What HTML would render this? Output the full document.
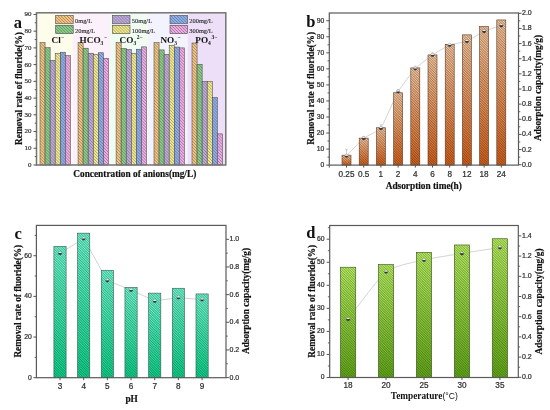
<!DOCTYPE html>
<html><head><meta charset="utf-8"><title>Fluoride removal figure</title>
<style>html,body{margin:0;padding:0;background:#fff;}svg{display:block;} svg{will-change:transform;}</style></head>
<body><svg width="550" height="410" viewBox="0 0 550 410">
<defs><linearGradient id="sph" x1="0" y1="0" x2="0" y2="1"><stop offset="0" stop-color="#ffffff"/><stop offset="0.4" stop-color="#e8eaf0"/><stop offset="0.55" stop-color="#3a3a44"/><stop offset="1" stop-color="#222"/></linearGradient><pattern id="ha0" patternUnits="userSpaceOnUse" width="2.1" height="2.1" patternTransform="rotate(-45)"><rect width="2.1" height="2.1" fill="#f6c782"/><rect x="0" y="0" width="0.75" height="2.1" fill="#3a3030" fill-opacity="0.4"/></pattern><pattern id="ha1" patternUnits="userSpaceOnUse" width="2.1" height="2.1" patternTransform="rotate(-45)"><rect width="2.1" height="2.1" fill="#8ad28a"/><rect x="0" y="0" width="0.75" height="2.1" fill="#3a3030" fill-opacity="0.4"/></pattern><pattern id="ha2" patternUnits="userSpaceOnUse" width="2.1" height="2.1" patternTransform="rotate(-45)"><rect width="2.1" height="2.1" fill="#c2aee2"/><rect x="0" y="0" width="0.75" height="2.1" fill="#3a3030" fill-opacity="0.4"/></pattern><pattern id="ha3" patternUnits="userSpaceOnUse" width="2.1" height="2.1" patternTransform="rotate(-45)"><rect width="2.1" height="2.1" fill="#f6ee90"/><rect x="0" y="0" width="0.75" height="2.1" fill="#3a3030" fill-opacity="0.4"/></pattern><pattern id="ha4" patternUnits="userSpaceOnUse" width="2.1" height="2.1" patternTransform="rotate(-45)"><rect width="2.1" height="2.1" fill="#8eb2f0"/><rect x="0" y="0" width="0.75" height="2.1" fill="#3a3030" fill-opacity="0.4"/></pattern><pattern id="ha5" patternUnits="userSpaceOnUse" width="2.1" height="2.1" patternTransform="rotate(-45)"><rect width="2.1" height="2.1" fill="#f4aeea"/><rect x="0" y="0" width="0.75" height="2.1" fill="#3a3030" fill-opacity="0.4"/></pattern><linearGradient id="gb" x1="0" y1="0" x2="0" y2="1"><stop offset="0" stop-color="#f6cca6"/><stop offset="1" stop-color="#d2601a"/></linearGradient><pattern id="hb" patternUnits="userSpaceOnUse" width="1.75" height="1.75" patternTransform="rotate(-45)"><rect x="0" y="0" width="0.65" height="1.75" fill="#3a1a08" fill-opacity="0.5"/></pattern><linearGradient id="gc" x1="0" y1="0" x2="0" y2="1"><stop offset="0" stop-color="#72f8d0"/><stop offset="1" stop-color="#0ed088"/></linearGradient><pattern id="hc" patternUnits="userSpaceOnUse" width="1.75" height="1.75" patternTransform="rotate(-45)"><rect x="0" y="0" width="0.65" height="1.75" fill="#064030" fill-opacity="0.48"/></pattern><linearGradient id="gd" x1="0" y1="0" x2="0" y2="1"><stop offset="0" stop-color="#baf062"/><stop offset="1" stop-color="#62a618"/></linearGradient><pattern id="hd" patternUnits="userSpaceOnUse" width="1.75" height="1.75" patternTransform="rotate(-45)"><rect x="0" y="0" width="0.65" height="1.75" fill="#1a3008" fill-opacity="0.45"/></pattern></defs>
<rect width="550" height="410" fill="#fff"/>
<rect x="36.5" y="12.8" width="36.30" height="152.20" fill="#fefdec"/>
<rect x="72.8" y="12.8" width="37.20" height="152.20" fill="#fcf0fa"/>
<rect x="110" y="12.8" width="37.50" height="152.20" fill="#f0fbf1"/>
<rect x="147.5" y="12.8" width="40.00" height="152.20" fill="#f3f3fd"/>
<rect x="187.5" y="12.8" width="38.30" height="152.20" fill="#ecdff7"/>
<rect x="40.00" y="42.70" width="5.07" height="122.30" fill="url(#ha0)" stroke="#4a4a4a" stroke-width="0.55"/>
<rect x="45.07" y="47.72" width="5.07" height="117.28" fill="url(#ha1)" stroke="#4a4a4a" stroke-width="0.55"/>
<rect x="50.14" y="60.27" width="5.07" height="104.73" fill="url(#ha2)" stroke="#4a4a4a" stroke-width="0.55"/>
<rect x="55.21" y="53.24" width="5.07" height="111.76" fill="url(#ha3)" stroke="#4a4a4a" stroke-width="0.55"/>
<rect x="60.28" y="52.24" width="5.07" height="112.76" fill="url(#ha4)" stroke="#4a4a4a" stroke-width="0.55"/>
<rect x="65.35" y="55.59" width="5.07" height="109.41" fill="url(#ha5)" stroke="#4a4a4a" stroke-width="0.55"/>
<rect x="78.05" y="42.70" width="5.07" height="122.30" fill="url(#ha0)" stroke="#4a4a4a" stroke-width="0.55"/>
<rect x="83.12" y="48.22" width="5.07" height="116.78" fill="url(#ha1)" stroke="#4a4a4a" stroke-width="0.55"/>
<rect x="88.19" y="53.24" width="5.07" height="111.76" fill="url(#ha2)" stroke="#4a4a4a" stroke-width="0.55"/>
<rect x="93.26" y="54.58" width="5.07" height="110.42" fill="url(#ha3)" stroke="#4a4a4a" stroke-width="0.55"/>
<rect x="98.33" y="52.74" width="5.07" height="112.26" fill="url(#ha4)" stroke="#4a4a4a" stroke-width="0.55"/>
<rect x="103.40" y="58.26" width="5.07" height="106.74" fill="url(#ha5)" stroke="#4a4a4a" stroke-width="0.55"/>
<rect x="116.10" y="42.70" width="5.07" height="122.30" fill="url(#ha0)" stroke="#4a4a4a" stroke-width="0.55"/>
<rect x="121.17" y="48.56" width="5.07" height="116.44" fill="url(#ha1)" stroke="#4a4a4a" stroke-width="0.55"/>
<rect x="126.24" y="49.56" width="5.07" height="115.44" fill="url(#ha2)" stroke="#4a4a4a" stroke-width="0.55"/>
<rect x="131.31" y="53.24" width="5.07" height="111.76" fill="url(#ha3)" stroke="#4a4a4a" stroke-width="0.55"/>
<rect x="136.38" y="49.23" width="5.07" height="115.77" fill="url(#ha4)" stroke="#4a4a4a" stroke-width="0.55"/>
<rect x="141.45" y="46.89" width="5.07" height="118.11" fill="url(#ha5)" stroke="#4a4a4a" stroke-width="0.55"/>
<rect x="154.00" y="42.70" width="5.07" height="122.30" fill="url(#ha0)" stroke="#4a4a4a" stroke-width="0.55"/>
<rect x="159.07" y="49.90" width="5.07" height="115.10" fill="url(#ha1)" stroke="#4a4a4a" stroke-width="0.55"/>
<rect x="164.14" y="54.25" width="5.07" height="110.75" fill="url(#ha2)" stroke="#4a4a4a" stroke-width="0.55"/>
<rect x="169.21" y="45.55" width="5.07" height="119.45" fill="url(#ha3)" stroke="#4a4a4a" stroke-width="0.55"/>
<rect x="174.28" y="47.05" width="5.07" height="117.95" fill="url(#ha4)" stroke="#4a4a4a" stroke-width="0.55"/>
<rect x="179.35" y="47.89" width="5.07" height="117.11" fill="url(#ha5)" stroke="#4a4a4a" stroke-width="0.55"/>
<rect x="192.00" y="43.04" width="5.07" height="121.96" fill="url(#ha0)" stroke="#4a4a4a" stroke-width="0.55"/>
<rect x="197.07" y="64.29" width="5.07" height="100.71" fill="url(#ha1)" stroke="#4a4a4a" stroke-width="0.55"/>
<rect x="202.14" y="81.52" width="5.07" height="83.48" fill="url(#ha2)" stroke="#4a4a4a" stroke-width="0.55"/>
<rect x="207.21" y="81.35" width="5.07" height="83.65" fill="url(#ha3)" stroke="#4a4a4a" stroke-width="0.55"/>
<rect x="212.28" y="97.58" width="5.07" height="67.42" fill="url(#ha4)" stroke="#4a4a4a" stroke-width="0.55"/>
<rect x="217.35" y="133.88" width="5.07" height="31.12" fill="url(#ha5)" stroke="#4a4a4a" stroke-width="0.55"/>
<rect x="55.7" y="15.4" width="17.5" height="8.4" fill="url(#ha0)" stroke="#4a4a4a" stroke-width="0.6"/>
<text x="75.00" y="22.60" font-family="'Liberation Serif', serif" font-size="6.4" fill="#333" stroke="#333" stroke-width="0.15">0mg/L</text>
<rect x="55.7" y="25.3" width="17.5" height="8.4" fill="url(#ha1)" stroke="#4a4a4a" stroke-width="0.6"/>
<text x="75.00" y="32.50" font-family="'Liberation Serif', serif" font-size="6.4" fill="#333" stroke="#333" stroke-width="0.15">20mg/L</text>
<rect x="112.5" y="15.4" width="17.5" height="8.4" fill="url(#ha2)" stroke="#4a4a4a" stroke-width="0.6"/>
<text x="131.80" y="22.60" font-family="'Liberation Serif', serif" font-size="6.4" fill="#333" stroke="#333" stroke-width="0.15">50mg/L</text>
<rect x="112.5" y="25.3" width="17.5" height="8.4" fill="url(#ha3)" stroke="#4a4a4a" stroke-width="0.6"/>
<text x="131.80" y="32.50" font-family="'Liberation Serif', serif" font-size="6.4" fill="#333" stroke="#333" stroke-width="0.15">100mg/L</text>
<rect x="170.0" y="15.4" width="17.5" height="8.4" fill="url(#ha4)" stroke="#4a4a4a" stroke-width="0.6"/>
<text x="189.30" y="22.60" font-family="'Liberation Serif', serif" font-size="6.4" fill="#333" stroke="#333" stroke-width="0.15">200mg/L</text>
<rect x="170.0" y="25.3" width="17.5" height="8.4" fill="url(#ha5)" stroke="#4a4a4a" stroke-width="0.6"/>
<text x="189.30" y="32.50" font-family="'Liberation Serif', serif" font-size="6.4" fill="#333" stroke="#333" stroke-width="0.15">300mg/L</text>
<text x="51.6" y="42.9" font-family="'Liberation Serif', serif" font-weight="bold" font-size="9.2" fill="#111">Cl<tspan font-size="5.52" dy="-3.86" dx="0.3">&#8722;</tspan></text>
<text x="79.6" y="42.9" font-family="'Liberation Serif', serif" font-weight="bold" font-size="9.2" fill="#111">HCO<tspan font-size="5.52" dy="2.02">3</tspan><tspan font-size="5.52" dy="-5.89" dx="0.6">&#8722;</tspan></text>
<text x="119.6" y="42.9" font-family="'Liberation Serif', serif" font-weight="bold" font-size="9.2" fill="#111">CO<tspan font-size="5.52" dy="2.02">3</tspan><tspan font-size="5.52" dy="-5.89" dx="0.6">2&#8722;</tspan></text>
<text x="160.4" y="42.9" font-family="'Liberation Serif', serif" font-weight="bold" font-size="9.2" fill="#111">NO<tspan font-size="5.52" dy="2.02">3</tspan><tspan font-size="5.52" dy="-5.89" dx="0.6">&#8722;</tspan></text>
<text x="195.3" y="42.9" font-family="'Liberation Serif', serif" font-weight="bold" font-size="9.2" fill="#111">PO<tspan font-size="5.52" dy="2.02">4</tspan><tspan font-size="5.52" dy="-5.89" dx="0.6">3&#8722;</tspan></text>
<rect x="36.5" y="12.8" width="189.30" height="152.20" fill="none" stroke="#747474" stroke-width="1.5"/>
<line x1="33.50" y1="165.00" x2="36.50" y2="165.00" stroke="#555" stroke-width="1"/>
<line x1="33.50" y1="148.27" x2="36.50" y2="148.27" stroke="#555" stroke-width="1"/>
<line x1="33.50" y1="131.54" x2="36.50" y2="131.54" stroke="#555" stroke-width="1"/>
<line x1="33.50" y1="114.81" x2="36.50" y2="114.81" stroke="#555" stroke-width="1"/>
<line x1="33.50" y1="98.08" x2="36.50" y2="98.08" stroke="#555" stroke-width="1"/>
<line x1="33.50" y1="81.35" x2="36.50" y2="81.35" stroke="#555" stroke-width="1"/>
<line x1="33.50" y1="64.62" x2="36.50" y2="64.62" stroke="#555" stroke-width="1"/>
<line x1="33.50" y1="47.89" x2="36.50" y2="47.89" stroke="#555" stroke-width="1"/>
<line x1="33.50" y1="31.16" x2="36.50" y2="31.16" stroke="#555" stroke-width="1"/>
<line x1="33.50" y1="14.43" x2="36.50" y2="14.43" stroke="#555" stroke-width="1"/>
<line x1="34.70" y1="156.63" x2="36.50" y2="156.63" stroke="#555" stroke-width="0.9"/>
<line x1="34.70" y1="139.91" x2="36.50" y2="139.91" stroke="#555" stroke-width="0.9"/>
<line x1="34.70" y1="123.17" x2="36.50" y2="123.17" stroke="#555" stroke-width="0.9"/>
<line x1="34.70" y1="106.44" x2="36.50" y2="106.44" stroke="#555" stroke-width="0.9"/>
<line x1="34.70" y1="89.72" x2="36.50" y2="89.72" stroke="#555" stroke-width="0.9"/>
<line x1="34.70" y1="72.98" x2="36.50" y2="72.98" stroke="#555" stroke-width="0.9"/>
<line x1="34.70" y1="56.25" x2="36.50" y2="56.25" stroke="#555" stroke-width="0.9"/>
<line x1="34.70" y1="39.52" x2="36.50" y2="39.52" stroke="#555" stroke-width="0.9"/>
<line x1="34.70" y1="22.79" x2="36.50" y2="22.79" stroke="#555" stroke-width="0.9"/>
<text x="31.60" y="166.90" text-anchor="end" font-family="'Liberation Serif', serif" font-size="7.0" fill="#333" stroke="#333" stroke-width="0.22">0</text>
<text x="31.60" y="150.17" text-anchor="end" font-family="'Liberation Serif', serif" font-size="7.0" fill="#333" stroke="#333" stroke-width="0.22">10</text>
<text x="31.60" y="133.44" text-anchor="end" font-family="'Liberation Serif', serif" font-size="7.0" fill="#333" stroke="#333" stroke-width="0.22">20</text>
<text x="31.60" y="116.71" text-anchor="end" font-family="'Liberation Serif', serif" font-size="7.0" fill="#333" stroke="#333" stroke-width="0.22">30</text>
<text x="31.60" y="99.98" text-anchor="end" font-family="'Liberation Serif', serif" font-size="7.0" fill="#333" stroke="#333" stroke-width="0.22">40</text>
<text x="31.60" y="83.25" text-anchor="end" font-family="'Liberation Serif', serif" font-size="7.0" fill="#333" stroke="#333" stroke-width="0.22">50</text>
<text x="31.60" y="66.52" text-anchor="end" font-family="'Liberation Serif', serif" font-size="7.0" fill="#333" stroke="#333" stroke-width="0.22">60</text>
<text x="31.60" y="49.79" text-anchor="end" font-family="'Liberation Serif', serif" font-size="7.0" fill="#333" stroke="#333" stroke-width="0.22">70</text>
<text x="31.60" y="33.06" text-anchor="end" font-family="'Liberation Serif', serif" font-size="7.0" fill="#333" stroke="#333" stroke-width="0.22">80</text>
<text x="31.60" y="16.33" text-anchor="end" font-family="'Liberation Serif', serif" font-size="7.0" fill="#333" stroke="#333" stroke-width="0.22">90</text>
<text x="13.8" y="28" font-family="'Liberation Serif', serif" font-weight="bold" font-size="16.5" fill="#111">a</text>
<text transform="translate(21.60,88.50) rotate(-90)" text-anchor="middle" font-family="'Liberation Serif', serif" font-weight="bold" font-size="9.3" fill="#111" stroke="#111" stroke-width="0.18">Removal rate of fluoride(%)</text>
<text x="134.80" y="176.60" text-anchor="middle" font-family="'Liberation Serif', serif" font-weight="bold" font-size="9.3" fill="#111" stroke="#111" stroke-width="0.18">Concentration of anions(mg/L)</text>
<path d="M346.50,155.80 C347.53,154.74 361.64,139.86 363.70,138.20 C365.76,136.54 378.84,131.00 380.90,128.20 C382.96,125.40 396.04,95.18 398.10,91.60 C400.16,88.02 413.24,70.80 415.30,68.60 C417.36,66.40 430.44,56.32 432.50,54.90 C434.56,53.48 447.64,45.82 449.70,45.00 C451.76,44.18 464.84,42.02 466.90,41.20 C468.96,40.38 482.04,32.25 484.10,31.30 C486.16,30.35 500.27,25.75 501.30,25.40" fill="none" stroke="#c4c4c4" stroke-width="0.75"/>
<rect x="342.00" y="155.16" width="9" height="9.94" fill="url(#gb)"/>
<rect x="342.00" y="155.16" width="9" height="9.94" fill="url(#hb)" stroke="#5a3a2a" stroke-width="0.6"/>
<rect x="359.20" y="138.15" width="9" height="26.95" fill="url(#gb)"/>
<rect x="359.20" y="138.15" width="9" height="26.95" fill="url(#hb)" stroke="#5a3a2a" stroke-width="0.6"/>
<rect x="376.40" y="127.73" width="9" height="37.37" fill="url(#gb)"/>
<rect x="376.40" y="127.73" width="9" height="37.37" fill="url(#hb)" stroke="#5a3a2a" stroke-width="0.6"/>
<rect x="393.60" y="92.76" width="9" height="72.34" fill="url(#gb)"/>
<rect x="393.60" y="92.76" width="9" height="72.34" fill="url(#hb)" stroke="#5a3a2a" stroke-width="0.6"/>
<rect x="410.80" y="67.90" width="9" height="97.20" fill="url(#gb)"/>
<rect x="410.80" y="67.90" width="9" height="97.20" fill="url(#hb)" stroke="#5a3a2a" stroke-width="0.6"/>
<rect x="428.00" y="54.91" width="9" height="110.19" fill="url(#gb)"/>
<rect x="428.00" y="54.91" width="9" height="110.19" fill="url(#hb)" stroke="#5a3a2a" stroke-width="0.6"/>
<rect x="445.20" y="44.32" width="9" height="120.78" fill="url(#gb)"/>
<rect x="445.20" y="44.32" width="9" height="120.78" fill="url(#hb)" stroke="#5a3a2a" stroke-width="0.6"/>
<rect x="462.40" y="34.86" width="9" height="130.24" fill="url(#gb)"/>
<rect x="462.40" y="34.86" width="9" height="130.24" fill="url(#hb)" stroke="#5a3a2a" stroke-width="0.6"/>
<rect x="479.60" y="26.51" width="9" height="138.59" fill="url(#gb)"/>
<rect x="479.60" y="26.51" width="9" height="138.59" fill="url(#hb)" stroke="#5a3a2a" stroke-width="0.6"/>
<rect x="496.80" y="19.94" width="9" height="145.16" fill="url(#gb)"/>
<rect x="496.80" y="19.94" width="9" height="145.16" fill="url(#hb)" stroke="#5a3a2a" stroke-width="0.6"/>
<line x1="346.50" y1="149.40" x2="346.50" y2="155.80" stroke="#b0b0b0" stroke-width="0.6"/><line x1="345.30" y1="149.40" x2="347.70" y2="149.40" stroke="#b0b0b0" stroke-width="0.6"/>
<line x1="363.70" y1="136.40" x2="363.70" y2="138.20" stroke="#b0b0b0" stroke-width="0.6"/><line x1="362.50" y1="136.40" x2="364.90" y2="136.40" stroke="#b0b0b0" stroke-width="0.6"/>
<line x1="380.90" y1="124.80" x2="380.90" y2="128.20" stroke="#b0b0b0" stroke-width="0.6"/><line x1="379.70" y1="124.80" x2="382.10" y2="124.80" stroke="#b0b0b0" stroke-width="0.6"/>
<line x1="398.10" y1="89.60" x2="398.10" y2="91.60" stroke="#b0b0b0" stroke-width="0.6"/><line x1="396.90" y1="89.60" x2="399.30" y2="89.60" stroke="#b0b0b0" stroke-width="0.6"/>
<line x1="415.30" y1="66.20" x2="415.30" y2="68.60" stroke="#b0b0b0" stroke-width="0.6"/><line x1="414.10" y1="66.20" x2="416.50" y2="66.20" stroke="#b0b0b0" stroke-width="0.6"/>
<line x1="432.50" y1="52.80" x2="432.50" y2="54.90" stroke="#b0b0b0" stroke-width="0.6"/><line x1="431.30" y1="52.80" x2="433.70" y2="52.80" stroke="#b0b0b0" stroke-width="0.6"/>
<circle cx="346.50" cy="155.80" r="1.75" fill="url(#sph)" stroke="#555" stroke-width="0.3"/>
<circle cx="363.70" cy="138.20" r="1.75" fill="url(#sph)" stroke="#555" stroke-width="0.3"/>
<circle cx="380.90" cy="128.20" r="1.75" fill="url(#sph)" stroke="#555" stroke-width="0.3"/>
<circle cx="398.10" cy="91.60" r="1.75" fill="url(#sph)" stroke="#555" stroke-width="0.3"/>
<circle cx="415.30" cy="68.60" r="1.75" fill="url(#sph)" stroke="#555" stroke-width="0.3"/>
<circle cx="432.50" cy="54.90" r="1.75" fill="url(#sph)" stroke="#555" stroke-width="0.3"/>
<circle cx="449.70" cy="45.00" r="1.75" fill="url(#sph)" stroke="#555" stroke-width="0.3"/>
<circle cx="466.90" cy="41.20" r="1.75" fill="url(#sph)" stroke="#555" stroke-width="0.3"/>
<circle cx="484.10" cy="31.30" r="1.75" fill="url(#sph)" stroke="#555" stroke-width="0.3"/>
<circle cx="501.30" cy="25.40" r="1.75" fill="url(#sph)" stroke="#555" stroke-width="0.3"/>
<rect x="329.3" y="13.0" width="189.20" height="152.10" fill="none" stroke="#5a5a5a" stroke-width="1.2"/>
<line x1="326.30" y1="165.10" x2="329.30" y2="165.10" stroke="#555" stroke-width="1"/>
<line x1="326.30" y1="149.06" x2="329.30" y2="149.06" stroke="#555" stroke-width="1"/>
<line x1="326.30" y1="133.02" x2="329.30" y2="133.02" stroke="#555" stroke-width="1"/>
<line x1="326.30" y1="116.98" x2="329.30" y2="116.98" stroke="#555" stroke-width="1"/>
<line x1="326.30" y1="100.94" x2="329.30" y2="100.94" stroke="#555" stroke-width="1"/>
<line x1="326.30" y1="84.90" x2="329.30" y2="84.90" stroke="#555" stroke-width="1"/>
<line x1="326.30" y1="68.86" x2="329.30" y2="68.86" stroke="#555" stroke-width="1"/>
<line x1="326.30" y1="52.82" x2="329.30" y2="52.82" stroke="#555" stroke-width="1"/>
<line x1="326.30" y1="36.78" x2="329.30" y2="36.78" stroke="#555" stroke-width="1"/>
<line x1="326.30" y1="20.74" x2="329.30" y2="20.74" stroke="#555" stroke-width="1"/>
<line x1="327.50" y1="157.08" x2="329.30" y2="157.08" stroke="#555" stroke-width="0.9"/>
<line x1="327.50" y1="141.04" x2="329.30" y2="141.04" stroke="#555" stroke-width="0.9"/>
<line x1="327.50" y1="125.00" x2="329.30" y2="125.00" stroke="#555" stroke-width="0.9"/>
<line x1="327.50" y1="108.96" x2="329.30" y2="108.96" stroke="#555" stroke-width="0.9"/>
<line x1="327.50" y1="92.92" x2="329.30" y2="92.92" stroke="#555" stroke-width="0.9"/>
<line x1="327.50" y1="76.88" x2="329.30" y2="76.88" stroke="#555" stroke-width="0.9"/>
<line x1="327.50" y1="60.84" x2="329.30" y2="60.84" stroke="#555" stroke-width="0.9"/>
<line x1="327.50" y1="44.80" x2="329.30" y2="44.80" stroke="#555" stroke-width="0.9"/>
<line x1="327.50" y1="28.76" x2="329.30" y2="28.76" stroke="#555" stroke-width="0.9"/>
<text x="324.30" y="167.07" text-anchor="end" font-family="'Liberation Sans', sans-serif" font-size="6.8" fill="#2e2e2e" stroke="#2e2e2e" stroke-width="0.22">0</text>
<text x="324.30" y="151.03" text-anchor="end" font-family="'Liberation Sans', sans-serif" font-size="6.8" fill="#2e2e2e" stroke="#2e2e2e" stroke-width="0.22">10</text>
<text x="324.30" y="134.99" text-anchor="end" font-family="'Liberation Sans', sans-serif" font-size="6.8" fill="#2e2e2e" stroke="#2e2e2e" stroke-width="0.22">20</text>
<text x="324.30" y="118.95" text-anchor="end" font-family="'Liberation Sans', sans-serif" font-size="6.8" fill="#2e2e2e" stroke="#2e2e2e" stroke-width="0.22">30</text>
<text x="324.30" y="102.91" text-anchor="end" font-family="'Liberation Sans', sans-serif" font-size="6.8" fill="#2e2e2e" stroke="#2e2e2e" stroke-width="0.22">40</text>
<text x="324.30" y="86.87" text-anchor="end" font-family="'Liberation Sans', sans-serif" font-size="6.8" fill="#2e2e2e" stroke="#2e2e2e" stroke-width="0.22">50</text>
<text x="324.30" y="70.83" text-anchor="end" font-family="'Liberation Sans', sans-serif" font-size="6.8" fill="#2e2e2e" stroke="#2e2e2e" stroke-width="0.22">60</text>
<text x="324.30" y="54.79" text-anchor="end" font-family="'Liberation Sans', sans-serif" font-size="6.8" fill="#2e2e2e" stroke="#2e2e2e" stroke-width="0.22">70</text>
<text x="324.30" y="38.75" text-anchor="end" font-family="'Liberation Sans', sans-serif" font-size="6.8" fill="#2e2e2e" stroke="#2e2e2e" stroke-width="0.22">80</text>
<text x="324.30" y="22.71" text-anchor="end" font-family="'Liberation Sans', sans-serif" font-size="6.8" fill="#2e2e2e" stroke="#2e2e2e" stroke-width="0.22">90</text>
<line x1="518.50" y1="164.70" x2="521.50" y2="164.70" stroke="#555" stroke-width="1"/>
<line x1="518.50" y1="149.56" x2="521.50" y2="149.56" stroke="#555" stroke-width="1"/>
<line x1="518.50" y1="134.42" x2="521.50" y2="134.42" stroke="#555" stroke-width="1"/>
<line x1="518.50" y1="119.28" x2="521.50" y2="119.28" stroke="#555" stroke-width="1"/>
<line x1="518.50" y1="104.14" x2="521.50" y2="104.14" stroke="#555" stroke-width="1"/>
<line x1="518.50" y1="89.00" x2="521.50" y2="89.00" stroke="#555" stroke-width="1"/>
<line x1="518.50" y1="73.86" x2="521.50" y2="73.86" stroke="#555" stroke-width="1"/>
<line x1="518.50" y1="58.72" x2="521.50" y2="58.72" stroke="#555" stroke-width="1"/>
<line x1="518.50" y1="43.58" x2="521.50" y2="43.58" stroke="#555" stroke-width="1"/>
<line x1="518.50" y1="28.44" x2="521.50" y2="28.44" stroke="#555" stroke-width="1"/>
<line x1="518.50" y1="13.30" x2="521.50" y2="13.30" stroke="#555" stroke-width="1"/>
<line x1="518.50" y1="157.13" x2="520.30" y2="157.13" stroke="#555" stroke-width="0.9"/>
<line x1="518.50" y1="141.99" x2="520.30" y2="141.99" stroke="#555" stroke-width="0.9"/>
<line x1="518.50" y1="126.85" x2="520.30" y2="126.85" stroke="#555" stroke-width="0.9"/>
<line x1="518.50" y1="111.71" x2="520.30" y2="111.71" stroke="#555" stroke-width="0.9"/>
<line x1="518.50" y1="96.57" x2="520.30" y2="96.57" stroke="#555" stroke-width="0.9"/>
<line x1="518.50" y1="81.43" x2="520.30" y2="81.43" stroke="#555" stroke-width="0.9"/>
<line x1="518.50" y1="66.29" x2="520.30" y2="66.29" stroke="#555" stroke-width="0.9"/>
<line x1="518.50" y1="51.15" x2="520.30" y2="51.15" stroke="#555" stroke-width="0.9"/>
<line x1="518.50" y1="36.01" x2="520.30" y2="36.01" stroke="#555" stroke-width="0.9"/>
<line x1="518.50" y1="20.87" x2="520.30" y2="20.87" stroke="#555" stroke-width="0.9"/>
<text x="522.00" y="166.73" text-anchor="start" font-family="'Liberation Sans', sans-serif" font-size="7.0" fill="#2e2e2e" stroke="#2e2e2e" stroke-width="0.22">0.0</text>
<text x="522.00" y="151.59" text-anchor="start" font-family="'Liberation Sans', sans-serif" font-size="7.0" fill="#2e2e2e" stroke="#2e2e2e" stroke-width="0.22">0.2</text>
<text x="522.00" y="136.45" text-anchor="start" font-family="'Liberation Sans', sans-serif" font-size="7.0" fill="#2e2e2e" stroke="#2e2e2e" stroke-width="0.22">0.4</text>
<text x="522.00" y="121.31" text-anchor="start" font-family="'Liberation Sans', sans-serif" font-size="7.0" fill="#2e2e2e" stroke="#2e2e2e" stroke-width="0.22">0.6</text>
<text x="522.00" y="106.17" text-anchor="start" font-family="'Liberation Sans', sans-serif" font-size="7.0" fill="#2e2e2e" stroke="#2e2e2e" stroke-width="0.22">0.8</text>
<text x="522.00" y="91.03" text-anchor="start" font-family="'Liberation Sans', sans-serif" font-size="7.0" fill="#2e2e2e" stroke="#2e2e2e" stroke-width="0.22">1.0</text>
<text x="522.00" y="75.89" text-anchor="start" font-family="'Liberation Sans', sans-serif" font-size="7.0" fill="#2e2e2e" stroke="#2e2e2e" stroke-width="0.22">1.2</text>
<text x="522.00" y="60.75" text-anchor="start" font-family="'Liberation Sans', sans-serif" font-size="7.0" fill="#2e2e2e" stroke="#2e2e2e" stroke-width="0.22">1.4</text>
<text x="522.00" y="45.61" text-anchor="start" font-family="'Liberation Sans', sans-serif" font-size="7.0" fill="#2e2e2e" stroke="#2e2e2e" stroke-width="0.22">1.6</text>
<text x="522.00" y="30.47" text-anchor="start" font-family="'Liberation Sans', sans-serif" font-size="7.0" fill="#2e2e2e" stroke="#2e2e2e" stroke-width="0.22">1.8</text>
<text x="522.00" y="15.33" text-anchor="start" font-family="'Liberation Sans', sans-serif" font-size="7.0" fill="#2e2e2e" stroke="#2e2e2e" stroke-width="0.22">2.0</text>
<line x1="329.30" y1="165.10" x2="329.30" y2="167.60" stroke="#555" stroke-width="1"/>
<line x1="346.50" y1="165.10" x2="346.50" y2="167.60" stroke="#555" stroke-width="1"/>
<line x1="363.70" y1="165.10" x2="363.70" y2="167.60" stroke="#555" stroke-width="1"/>
<line x1="380.90" y1="165.10" x2="380.90" y2="167.60" stroke="#555" stroke-width="1"/>
<line x1="398.10" y1="165.10" x2="398.10" y2="167.60" stroke="#555" stroke-width="1"/>
<line x1="415.30" y1="165.10" x2="415.30" y2="167.60" stroke="#555" stroke-width="1"/>
<line x1="432.50" y1="165.10" x2="432.50" y2="167.60" stroke="#555" stroke-width="1"/>
<line x1="449.70" y1="165.10" x2="449.70" y2="167.60" stroke="#555" stroke-width="1"/>
<line x1="466.90" y1="165.10" x2="466.90" y2="167.60" stroke="#555" stroke-width="1"/>
<line x1="484.10" y1="165.10" x2="484.10" y2="167.60" stroke="#555" stroke-width="1"/>
<line x1="501.30" y1="165.10" x2="501.30" y2="167.60" stroke="#555" stroke-width="1"/>
<text x="329.30" y="176.60" text-anchor="middle" font-family="'Liberation Sans', sans-serif" font-size="8.2" fill="#2e2e2e" stroke="#2e2e2e" stroke-width="0.22"></text>
<text x="346.50" y="176.60" text-anchor="middle" font-family="'Liberation Sans', sans-serif" font-size="8.2" fill="#2e2e2e" stroke="#2e2e2e" stroke-width="0.22">0.25</text>
<text x="363.70" y="176.60" text-anchor="middle" font-family="'Liberation Sans', sans-serif" font-size="8.2" fill="#2e2e2e" stroke="#2e2e2e" stroke-width="0.22">0.5</text>
<text x="380.90" y="176.60" text-anchor="middle" font-family="'Liberation Sans', sans-serif" font-size="8.2" fill="#2e2e2e" stroke="#2e2e2e" stroke-width="0.22">1</text>
<text x="398.10" y="176.60" text-anchor="middle" font-family="'Liberation Sans', sans-serif" font-size="8.2" fill="#2e2e2e" stroke="#2e2e2e" stroke-width="0.22">2</text>
<text x="415.30" y="176.60" text-anchor="middle" font-family="'Liberation Sans', sans-serif" font-size="8.2" fill="#2e2e2e" stroke="#2e2e2e" stroke-width="0.22">4</text>
<text x="432.50" y="176.60" text-anchor="middle" font-family="'Liberation Sans', sans-serif" font-size="8.2" fill="#2e2e2e" stroke="#2e2e2e" stroke-width="0.22">6</text>
<text x="449.70" y="176.60" text-anchor="middle" font-family="'Liberation Sans', sans-serif" font-size="8.2" fill="#2e2e2e" stroke="#2e2e2e" stroke-width="0.22">8</text>
<text x="466.90" y="176.60" text-anchor="middle" font-family="'Liberation Sans', sans-serif" font-size="8.2" fill="#2e2e2e" stroke="#2e2e2e" stroke-width="0.22">12</text>
<text x="484.10" y="176.60" text-anchor="middle" font-family="'Liberation Sans', sans-serif" font-size="8.2" fill="#2e2e2e" stroke="#2e2e2e" stroke-width="0.22">18</text>
<text x="501.30" y="176.60" text-anchor="middle" font-family="'Liberation Sans', sans-serif" font-size="8.2" fill="#2e2e2e" stroke="#2e2e2e" stroke-width="0.22">24</text>
<text x="306.3" y="27.2" font-family="'Liberation Serif', serif" font-weight="bold" font-size="16.5" fill="#111">b</text>
<text transform="translate(313.60,88.40) rotate(-90)" text-anchor="middle" font-family="'Liberation Serif', serif" font-weight="bold" font-size="9.3" fill="#111" stroke="#111" stroke-width="0.18">Removal rate of fluoride(%)</text>
<text transform="translate(541.00,88.00) rotate(-90)" text-anchor="middle" font-family="'Liberation Serif', serif" font-weight="bold" font-size="9.3" fill="#111" stroke="#111" stroke-width="0.18">Adsorption capacity(mg/g)</text>
<text x="423.80" y="189.20" text-anchor="middle" font-family="'Liberation Serif', serif" font-weight="bold" font-size="9.3" fill="#111" stroke="#111" stroke-width="0.18">Adsorption time(h)</text>
<polyline points="60.00,253.20 83.68,238.60 107.36,280.50 131.04,290.00 154.72,300.90 178.40,297.60 202.08,299.60" fill="none" stroke="#c4c4c4" stroke-width="0.75"/>
<rect x="53.90" y="246.37" width="12.2" height="131.33" fill="url(#gc)"/>
<rect x="53.90" y="246.37" width="12.2" height="131.33" fill="url(#hc)" stroke="#3a5a50" stroke-width="0.6"/>
<rect x="77.58" y="233.15" width="12.2" height="144.55" fill="url(#gc)"/>
<rect x="77.58" y="233.15" width="12.2" height="144.55" fill="url(#hc)" stroke="#3a5a50" stroke-width="0.6"/>
<rect x="101.26" y="270.36" width="12.2" height="107.34" fill="url(#gc)"/>
<rect x="101.26" y="270.36" width="12.2" height="107.34" fill="url(#hc)" stroke="#3a5a50" stroke-width="0.6"/>
<rect x="124.94" y="287.43" width="12.2" height="90.27" fill="url(#gc)"/>
<rect x="124.94" y="287.43" width="12.2" height="90.27" fill="url(#hc)" stroke="#3a5a50" stroke-width="0.6"/>
<rect x="148.62" y="293.13" width="12.2" height="84.57" fill="url(#gc)"/>
<rect x="148.62" y="293.13" width="12.2" height="84.57" fill="url(#hc)" stroke="#3a5a50" stroke-width="0.6"/>
<rect x="172.30" y="288.25" width="12.2" height="89.45" fill="url(#gc)"/>
<rect x="172.30" y="288.25" width="12.2" height="89.45" fill="url(#hc)" stroke="#3a5a50" stroke-width="0.6"/>
<rect x="195.98" y="293.94" width="12.2" height="83.76" fill="url(#gc)"/>
<rect x="195.98" y="293.94" width="12.2" height="83.76" fill="url(#hc)" stroke="#3a5a50" stroke-width="0.6"/>
<circle cx="60.00" cy="253.20" r="1.75" fill="url(#sph)" stroke="#555" stroke-width="0.3"/>
<circle cx="83.68" cy="238.60" r="1.75" fill="url(#sph)" stroke="#555" stroke-width="0.3"/>
<circle cx="107.36" cy="280.50" r="1.75" fill="url(#sph)" stroke="#555" stroke-width="0.3"/>
<circle cx="131.04" cy="290.00" r="1.75" fill="url(#sph)" stroke="#555" stroke-width="0.3"/>
<circle cx="154.72" cy="300.90" r="1.75" fill="url(#sph)" stroke="#555" stroke-width="0.3"/>
<circle cx="178.40" cy="297.60" r="1.75" fill="url(#sph)" stroke="#555" stroke-width="0.3"/>
<circle cx="202.08" cy="299.60" r="1.75" fill="url(#sph)" stroke="#555" stroke-width="0.3"/>
<rect x="36.4" y="225.4" width="189.60" height="152.30" fill="none" stroke="#5a5a5a" stroke-width="1.2"/>
<line x1="33.40" y1="377.70" x2="36.40" y2="377.70" stroke="#555" stroke-width="1"/>
<line x1="33.40" y1="337.04" x2="36.40" y2="337.04" stroke="#555" stroke-width="1"/>
<line x1="33.40" y1="296.38" x2="36.40" y2="296.38" stroke="#555" stroke-width="1"/>
<line x1="33.40" y1="255.72" x2="36.40" y2="255.72" stroke="#555" stroke-width="1"/>
<line x1="34.60" y1="357.37" x2="36.40" y2="357.37" stroke="#555" stroke-width="0.9"/>
<line x1="34.60" y1="316.71" x2="36.40" y2="316.71" stroke="#555" stroke-width="0.9"/>
<line x1="34.60" y1="276.05" x2="36.40" y2="276.05" stroke="#555" stroke-width="0.9"/>
<line x1="34.60" y1="235.39" x2="36.40" y2="235.39" stroke="#555" stroke-width="0.9"/>
<text x="31.80" y="379.67" text-anchor="end" font-family="'Liberation Sans', sans-serif" font-size="6.8" fill="#2e2e2e" stroke="#2e2e2e" stroke-width="0.22">0</text>
<text x="31.80" y="339.01" text-anchor="end" font-family="'Liberation Sans', sans-serif" font-size="6.8" fill="#2e2e2e" stroke="#2e2e2e" stroke-width="0.22">20</text>
<text x="31.80" y="298.35" text-anchor="end" font-family="'Liberation Sans', sans-serif" font-size="6.8" fill="#2e2e2e" stroke="#2e2e2e" stroke-width="0.22">40</text>
<text x="31.80" y="257.69" text-anchor="end" font-family="'Liberation Sans', sans-serif" font-size="6.8" fill="#2e2e2e" stroke="#2e2e2e" stroke-width="0.22">60</text>
<line x1="226.00" y1="377.60" x2="229.00" y2="377.60" stroke="#555" stroke-width="1"/>
<line x1="226.00" y1="349.94" x2="229.00" y2="349.94" stroke="#555" stroke-width="1"/>
<line x1="226.00" y1="322.28" x2="229.00" y2="322.28" stroke="#555" stroke-width="1"/>
<line x1="226.00" y1="294.62" x2="229.00" y2="294.62" stroke="#555" stroke-width="1"/>
<line x1="226.00" y1="266.96" x2="229.00" y2="266.96" stroke="#555" stroke-width="1"/>
<line x1="226.00" y1="239.30" x2="229.00" y2="239.30" stroke="#555" stroke-width="1"/>
<line x1="226.00" y1="363.77" x2="227.80" y2="363.77" stroke="#555" stroke-width="0.9"/>
<line x1="226.00" y1="336.11" x2="227.80" y2="336.11" stroke="#555" stroke-width="0.9"/>
<line x1="226.00" y1="308.45" x2="227.80" y2="308.45" stroke="#555" stroke-width="0.9"/>
<line x1="226.00" y1="280.79" x2="227.80" y2="280.79" stroke="#555" stroke-width="0.9"/>
<line x1="226.00" y1="253.13" x2="227.80" y2="253.13" stroke="#555" stroke-width="0.9"/>
<text x="229.50" y="379.63" text-anchor="start" font-family="'Liberation Sans', sans-serif" font-size="7.0" fill="#2e2e2e" stroke="#2e2e2e" stroke-width="0.22">0.0</text>
<text x="229.50" y="351.97" text-anchor="start" font-family="'Liberation Sans', sans-serif" font-size="7.0" fill="#2e2e2e" stroke="#2e2e2e" stroke-width="0.22">0.2</text>
<text x="229.50" y="324.31" text-anchor="start" font-family="'Liberation Sans', sans-serif" font-size="7.0" fill="#2e2e2e" stroke="#2e2e2e" stroke-width="0.22">0.4</text>
<text x="229.50" y="296.65" text-anchor="start" font-family="'Liberation Sans', sans-serif" font-size="7.0" fill="#2e2e2e" stroke="#2e2e2e" stroke-width="0.22">0.6</text>
<text x="229.50" y="268.99" text-anchor="start" font-family="'Liberation Sans', sans-serif" font-size="7.0" fill="#2e2e2e" stroke="#2e2e2e" stroke-width="0.22">0.8</text>
<text x="229.50" y="241.33" text-anchor="start" font-family="'Liberation Sans', sans-serif" font-size="7.0" fill="#2e2e2e" stroke="#2e2e2e" stroke-width="0.22">1.0</text>
<line x1="60.00" y1="377.70" x2="60.00" y2="380.20" stroke="#555" stroke-width="1"/>
<line x1="83.68" y1="377.70" x2="83.68" y2="380.20" stroke="#555" stroke-width="1"/>
<line x1="107.36" y1="377.70" x2="107.36" y2="380.20" stroke="#555" stroke-width="1"/>
<line x1="131.04" y1="377.70" x2="131.04" y2="380.20" stroke="#555" stroke-width="1"/>
<line x1="154.72" y1="377.70" x2="154.72" y2="380.20" stroke="#555" stroke-width="1"/>
<line x1="178.40" y1="377.70" x2="178.40" y2="380.20" stroke="#555" stroke-width="1"/>
<line x1="202.08" y1="377.70" x2="202.08" y2="380.20" stroke="#555" stroke-width="1"/>
<text x="60.00" y="389.20" text-anchor="middle" font-family="'Liberation Sans', sans-serif" font-size="8.2" fill="#2e2e2e" stroke="#2e2e2e" stroke-width="0.22">3</text>
<text x="83.68" y="389.20" text-anchor="middle" font-family="'Liberation Sans', sans-serif" font-size="8.2" fill="#2e2e2e" stroke="#2e2e2e" stroke-width="0.22">4</text>
<text x="107.36" y="389.20" text-anchor="middle" font-family="'Liberation Sans', sans-serif" font-size="8.2" fill="#2e2e2e" stroke="#2e2e2e" stroke-width="0.22">5</text>
<text x="131.04" y="389.20" text-anchor="middle" font-family="'Liberation Sans', sans-serif" font-size="8.2" fill="#2e2e2e" stroke="#2e2e2e" stroke-width="0.22">6</text>
<text x="154.72" y="389.20" text-anchor="middle" font-family="'Liberation Sans', sans-serif" font-size="8.2" fill="#2e2e2e" stroke="#2e2e2e" stroke-width="0.22">7</text>
<text x="178.40" y="389.20" text-anchor="middle" font-family="'Liberation Sans', sans-serif" font-size="8.2" fill="#2e2e2e" stroke="#2e2e2e" stroke-width="0.22">8</text>
<text x="202.08" y="389.20" text-anchor="middle" font-family="'Liberation Sans', sans-serif" font-size="8.2" fill="#2e2e2e" stroke="#2e2e2e" stroke-width="0.22">9</text>
<text x="14.6" y="238.6" font-family="'Liberation Serif', serif" font-weight="bold" font-size="16.5" fill="#111">c</text>
<text transform="translate(20.80,301.20) rotate(-90)" text-anchor="middle" font-family="'Liberation Serif', serif" font-weight="bold" font-size="9.3" fill="#111" stroke="#111" stroke-width="0.18">Removal rate of fluoride(%)</text>
<text transform="translate(249.20,301.00) rotate(-90)" text-anchor="middle" font-family="'Liberation Serif', serif" font-weight="bold" font-size="9.3" fill="#111" stroke="#111" stroke-width="0.18">Adsorption capacity(mg/g)</text>
<text x="131.60" y="402.40" text-anchor="middle" font-family="'Liberation Serif', serif" font-weight="bold" font-size="9.3" fill="#111" stroke="#111" stroke-width="0.18">pH</text>
<path d="M348.10,319.20 C351.90,314.45 378.46,277.63 386.05,271.70 C393.64,265.77 416.41,261.73 424.00,259.90 C431.59,258.07 454.36,254.64 461.95,253.40 C469.54,252.16 496.11,248.09 499.90,247.50" fill="none" stroke="#c4c4c4" stroke-width="0.75"/>
<rect x="340.45" y="267.21" width="15.3" height="110.29" fill="url(#gd)"/>
<rect x="340.45" y="267.21" width="15.3" height="110.29" fill="url(#hd)" stroke="#3a5020" stroke-width="0.6"/>
<rect x="378.40" y="264.56" width="15.3" height="112.94" fill="url(#gd)"/>
<rect x="378.40" y="264.56" width="15.3" height="112.94" fill="url(#hd)" stroke="#3a5020" stroke-width="0.6"/>
<rect x="416.35" y="252.34" width="15.3" height="125.16" fill="url(#gd)"/>
<rect x="416.35" y="252.34" width="15.3" height="125.16" fill="url(#hd)" stroke="#3a5020" stroke-width="0.6"/>
<rect x="454.30" y="244.96" width="15.3" height="132.54" fill="url(#gd)"/>
<rect x="454.30" y="244.96" width="15.3" height="132.54" fill="url(#hd)" stroke="#3a5020" stroke-width="0.6"/>
<rect x="492.25" y="238.74" width="15.3" height="138.76" fill="url(#gd)"/>
<rect x="492.25" y="238.74" width="15.3" height="138.76" fill="url(#hd)" stroke="#3a5020" stroke-width="0.6"/>
<circle cx="348.10" cy="319.20" r="1.75" fill="url(#sph)" stroke="#555" stroke-width="0.3"/>
<circle cx="386.05" cy="271.70" r="1.75" fill="url(#sph)" stroke="#555" stroke-width="0.3"/>
<circle cx="424.00" cy="259.90" r="1.75" fill="url(#sph)" stroke="#555" stroke-width="0.3"/>
<circle cx="461.95" cy="253.40" r="1.75" fill="url(#sph)" stroke="#555" stroke-width="0.3"/>
<circle cx="499.90" cy="247.50" r="1.75" fill="url(#sph)" stroke="#555" stroke-width="0.3"/>
<rect x="329.7" y="225.5" width="188.60" height="152.00" fill="none" stroke="#5a5a5a" stroke-width="1.2"/>
<line x1="326.70" y1="377.50" x2="329.70" y2="377.50" stroke="#555" stroke-width="1"/>
<line x1="326.70" y1="354.45" x2="329.70" y2="354.45" stroke="#555" stroke-width="1"/>
<line x1="326.70" y1="331.40" x2="329.70" y2="331.40" stroke="#555" stroke-width="1"/>
<line x1="326.70" y1="308.35" x2="329.70" y2="308.35" stroke="#555" stroke-width="1"/>
<line x1="326.70" y1="285.30" x2="329.70" y2="285.30" stroke="#555" stroke-width="1"/>
<line x1="326.70" y1="262.25" x2="329.70" y2="262.25" stroke="#555" stroke-width="1"/>
<line x1="326.70" y1="239.20" x2="329.70" y2="239.20" stroke="#555" stroke-width="1"/>
<line x1="327.90" y1="365.98" x2="329.70" y2="365.98" stroke="#555" stroke-width="0.9"/>
<line x1="327.90" y1="342.93" x2="329.70" y2="342.93" stroke="#555" stroke-width="0.9"/>
<line x1="327.90" y1="319.88" x2="329.70" y2="319.88" stroke="#555" stroke-width="0.9"/>
<line x1="327.90" y1="296.82" x2="329.70" y2="296.82" stroke="#555" stroke-width="0.9"/>
<line x1="327.90" y1="273.77" x2="329.70" y2="273.77" stroke="#555" stroke-width="0.9"/>
<line x1="327.90" y1="250.72" x2="329.70" y2="250.72" stroke="#555" stroke-width="0.9"/>
<line x1="327.90" y1="227.67" x2="329.70" y2="227.67" stroke="#555" stroke-width="0.9"/>
<text x="324.60" y="379.47" text-anchor="end" font-family="'Liberation Sans', sans-serif" font-size="6.8" fill="#2e2e2e" stroke="#2e2e2e" stroke-width="0.22">0</text>
<text x="324.60" y="356.42" text-anchor="end" font-family="'Liberation Sans', sans-serif" font-size="6.8" fill="#2e2e2e" stroke="#2e2e2e" stroke-width="0.22">10</text>
<text x="324.60" y="333.37" text-anchor="end" font-family="'Liberation Sans', sans-serif" font-size="6.8" fill="#2e2e2e" stroke="#2e2e2e" stroke-width="0.22">20</text>
<text x="324.60" y="310.32" text-anchor="end" font-family="'Liberation Sans', sans-serif" font-size="6.8" fill="#2e2e2e" stroke="#2e2e2e" stroke-width="0.22">30</text>
<text x="324.60" y="287.27" text-anchor="end" font-family="'Liberation Sans', sans-serif" font-size="6.8" fill="#2e2e2e" stroke="#2e2e2e" stroke-width="0.22">40</text>
<text x="324.60" y="264.22" text-anchor="end" font-family="'Liberation Sans', sans-serif" font-size="6.8" fill="#2e2e2e" stroke="#2e2e2e" stroke-width="0.22">50</text>
<text x="324.60" y="241.17" text-anchor="end" font-family="'Liberation Sans', sans-serif" font-size="6.8" fill="#2e2e2e" stroke="#2e2e2e" stroke-width="0.22">60</text>
<line x1="518.30" y1="377.30" x2="521.30" y2="377.30" stroke="#555" stroke-width="1"/>
<line x1="518.30" y1="357.10" x2="521.30" y2="357.10" stroke="#555" stroke-width="1"/>
<line x1="518.30" y1="336.90" x2="521.30" y2="336.90" stroke="#555" stroke-width="1"/>
<line x1="518.30" y1="316.70" x2="521.30" y2="316.70" stroke="#555" stroke-width="1"/>
<line x1="518.30" y1="296.50" x2="521.30" y2="296.50" stroke="#555" stroke-width="1"/>
<line x1="518.30" y1="276.30" x2="521.30" y2="276.30" stroke="#555" stroke-width="1"/>
<line x1="518.30" y1="256.10" x2="521.30" y2="256.10" stroke="#555" stroke-width="1"/>
<line x1="518.30" y1="235.90" x2="521.30" y2="235.90" stroke="#555" stroke-width="1"/>
<line x1="518.30" y1="367.20" x2="520.10" y2="367.20" stroke="#555" stroke-width="0.9"/>
<line x1="518.30" y1="347.00" x2="520.10" y2="347.00" stroke="#555" stroke-width="0.9"/>
<line x1="518.30" y1="326.80" x2="520.10" y2="326.80" stroke="#555" stroke-width="0.9"/>
<line x1="518.30" y1="306.60" x2="520.10" y2="306.60" stroke="#555" stroke-width="0.9"/>
<line x1="518.30" y1="286.40" x2="520.10" y2="286.40" stroke="#555" stroke-width="0.9"/>
<line x1="518.30" y1="266.20" x2="520.10" y2="266.20" stroke="#555" stroke-width="0.9"/>
<line x1="518.30" y1="246.00" x2="520.10" y2="246.00" stroke="#555" stroke-width="0.9"/>
<text x="522.00" y="379.33" text-anchor="start" font-family="'Liberation Sans', sans-serif" font-size="7.0" fill="#2e2e2e" stroke="#2e2e2e" stroke-width="0.22">0.0</text>
<text x="522.00" y="359.13" text-anchor="start" font-family="'Liberation Sans', sans-serif" font-size="7.0" fill="#2e2e2e" stroke="#2e2e2e" stroke-width="0.22">0.2</text>
<text x="522.00" y="338.93" text-anchor="start" font-family="'Liberation Sans', sans-serif" font-size="7.0" fill="#2e2e2e" stroke="#2e2e2e" stroke-width="0.22">0.4</text>
<text x="522.00" y="318.73" text-anchor="start" font-family="'Liberation Sans', sans-serif" font-size="7.0" fill="#2e2e2e" stroke="#2e2e2e" stroke-width="0.22">0.6</text>
<text x="522.00" y="298.53" text-anchor="start" font-family="'Liberation Sans', sans-serif" font-size="7.0" fill="#2e2e2e" stroke="#2e2e2e" stroke-width="0.22">0.8</text>
<text x="522.00" y="278.33" text-anchor="start" font-family="'Liberation Sans', sans-serif" font-size="7.0" fill="#2e2e2e" stroke="#2e2e2e" stroke-width="0.22">1.0</text>
<text x="522.00" y="258.13" text-anchor="start" font-family="'Liberation Sans', sans-serif" font-size="7.0" fill="#2e2e2e" stroke="#2e2e2e" stroke-width="0.22">1.2</text>
<text x="522.00" y="237.93" text-anchor="start" font-family="'Liberation Sans', sans-serif" font-size="7.0" fill="#2e2e2e" stroke="#2e2e2e" stroke-width="0.22">1.4</text>
<line x1="348.10" y1="377.50" x2="348.10" y2="380.00" stroke="#555" stroke-width="1"/>
<line x1="386.05" y1="377.50" x2="386.05" y2="380.00" stroke="#555" stroke-width="1"/>
<line x1="424.00" y1="377.50" x2="424.00" y2="380.00" stroke="#555" stroke-width="1"/>
<line x1="461.95" y1="377.50" x2="461.95" y2="380.00" stroke="#555" stroke-width="1"/>
<line x1="499.90" y1="377.50" x2="499.90" y2="380.00" stroke="#555" stroke-width="1"/>
<text x="348.10" y="387.60" text-anchor="middle" font-family="'Liberation Sans', sans-serif" font-size="8.2" fill="#2e2e2e" stroke="#2e2e2e" stroke-width="0.22">18</text>
<text x="386.05" y="387.60" text-anchor="middle" font-family="'Liberation Sans', sans-serif" font-size="8.2" fill="#2e2e2e" stroke="#2e2e2e" stroke-width="0.22">20</text>
<text x="424.00" y="387.60" text-anchor="middle" font-family="'Liberation Sans', sans-serif" font-size="8.2" fill="#2e2e2e" stroke="#2e2e2e" stroke-width="0.22">25</text>
<text x="461.95" y="387.60" text-anchor="middle" font-family="'Liberation Sans', sans-serif" font-size="8.2" fill="#2e2e2e" stroke="#2e2e2e" stroke-width="0.22">30</text>
<text x="499.90" y="387.60" text-anchor="middle" font-family="'Liberation Sans', sans-serif" font-size="8.2" fill="#2e2e2e" stroke="#2e2e2e" stroke-width="0.22">35</text>
<text x="306.3" y="237.6" font-family="'Liberation Serif', serif" font-weight="bold" font-size="16.5" fill="#111">d</text>
<text transform="translate(314.70,301.30) rotate(-90)" text-anchor="middle" font-family="'Liberation Serif', serif" font-weight="bold" font-size="9.3" fill="#111" stroke="#111" stroke-width="0.18">Removal rate of fluoride(%)</text>
<text transform="translate(542.00,301.50) rotate(-90)" text-anchor="middle" font-family="'Liberation Serif', serif" font-weight="bold" font-size="9.3" fill="#111" stroke="#111" stroke-width="0.18">Adsorption capacity(mg/g)</text>
<text x="390.8" y="398.6" font-family="'Liberation Serif', serif" font-weight="bold" font-size="9.3" fill="#111">Temperature<tspan font-weight="normal" font-family="'Liberation Sans', sans-serif" font-size="8.6">(&#176;C)</tspan></text>
</svg></body></html>
